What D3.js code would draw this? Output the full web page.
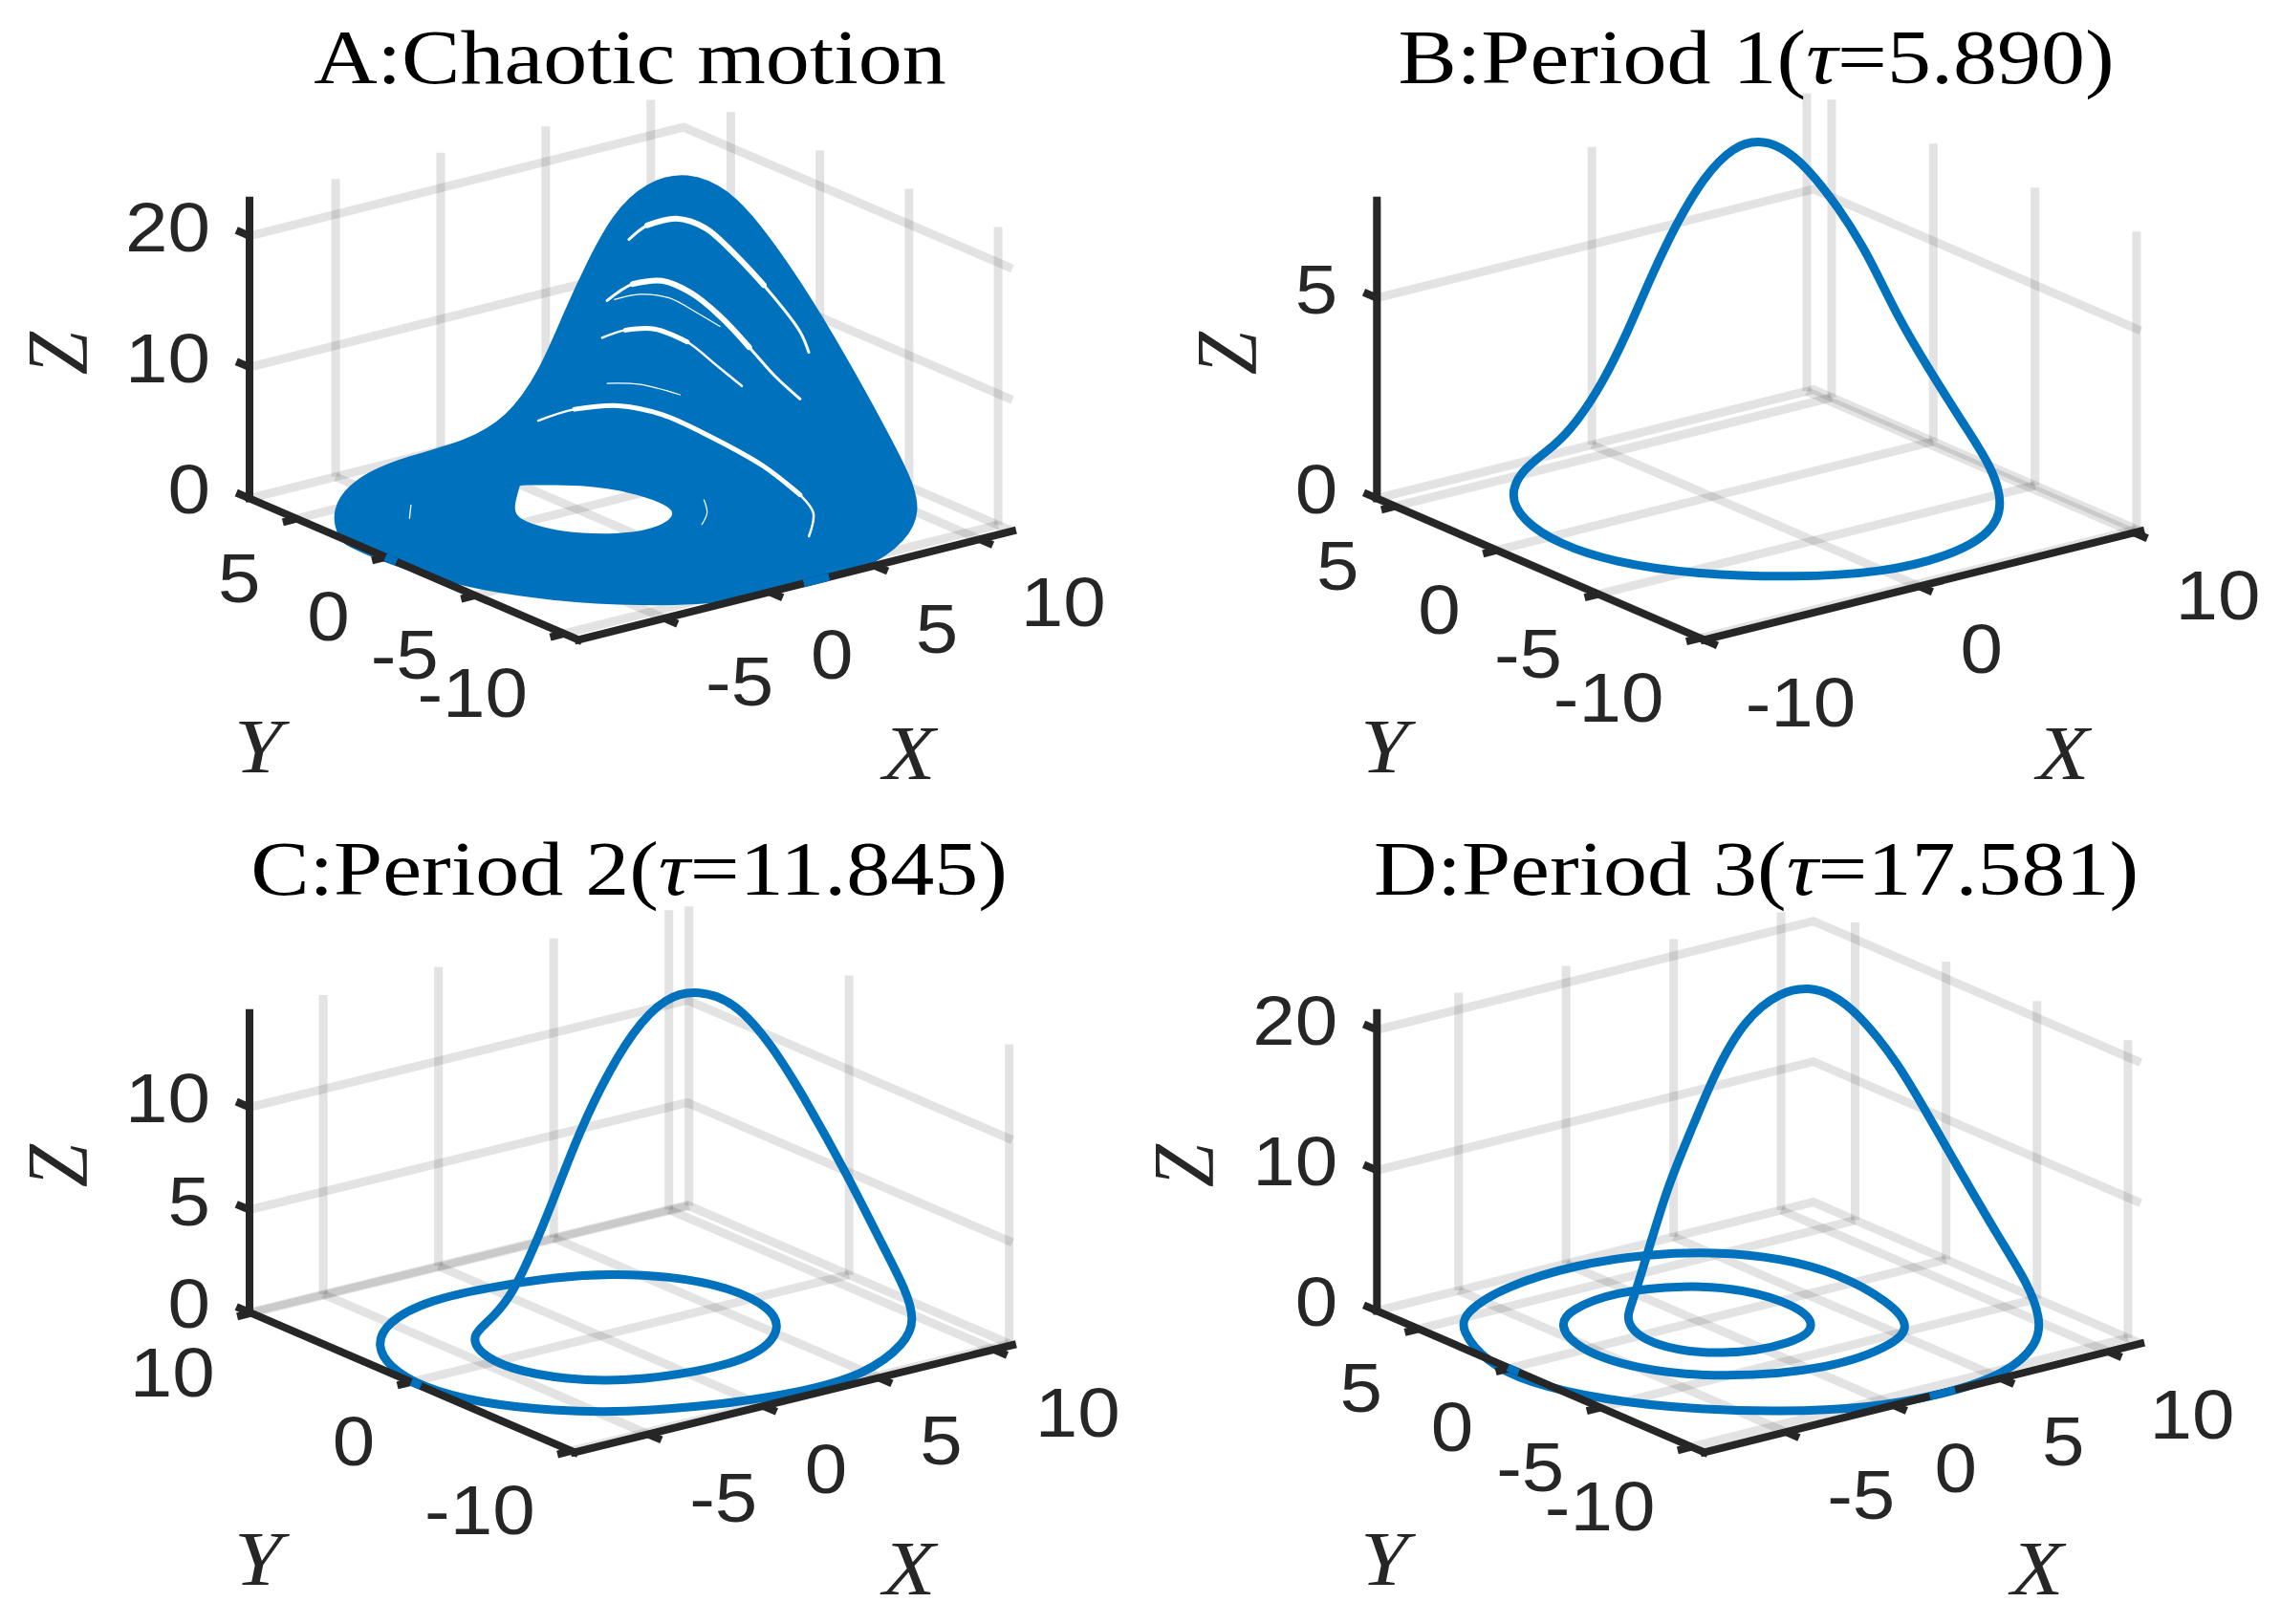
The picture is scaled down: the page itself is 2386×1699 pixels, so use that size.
<!DOCTYPE html>
<html>
<head>
<meta charset="utf-8">
<style>
  html, body { margin: 0; padding: 0; background: #fff; }
  svg { display: block; }
  .tick-label { font-family: "Liberation Sans", Arial, sans-serif; font-size: 80px; fill: #262626; }
  .axis-label { font-family: "Liberation Serif", "Times New Roman", serif; font-style: italic; font-size: 90px; fill: #262626; }
  .title { font-family: "Liberation Serif", "Times New Roman", serif; font-size: 92px; fill: #000; }
</style>
<script src="https://cdn.jsdelivr.net/npm/d3@7"></script>
</head>
<body>
<svg id="chart" width="2386" height="1699"></svg>
<script>
const limitsA = { x: [-9.1, 11.56], y: [-10.8, 7.65], z: [0, 22.7] }
const limitsB = { x: [-10, 10.3], y: [-10.2, 5.9], z: [0, 7.43] }
const limitsC = { x: [-8.2, 10.8], y: [-10.2, 10.1], z: [0, 14.6] }
const limitsD = { x: [-8.8, 11.5], y: [-10.7, 7.3], z: [0, 21.2] }

// Tick values
const ticksA = { x: [-5, 0, 5, 10], y: [-10, -5, 0, 5], z: [0, 10, 20] }
const ticksB = { x: [-10, 0, 10], y: [-10, -5, 0, 5], z: [0, 5] }
const ticksC = { x: [-5, 0, 5, 10], y: [-10, 0, 10], z: [0, 5, 10] }
const ticksD = { x: [-5, 0, 5, 10], y: [-10, -5, 0, 5], z: [0, 10, 20] }

// Where the trajectory passes in front of an axis: x range on the X axis, y range on the Y axis
const frontOfAxesA = { x: [1.63, 2.84], y: [0.02, -0.6] }
const frontOfAxesC = { x: [], y: [0, -0.6] }
const frontOfAxesD = { x: [1.69, 2.87], y: [0.1, -0.5] }

// Chaotic motion: outer edge of the dense band, [x, y, z]
const chaosEdge = [
  [-7.53, 4.84, 0.1], [-9.24, 2.31, 0.1], [-9.38, 1.73, 0.1], [-9.44, -0.6, 0.1], [-8.77, -4.1, 0.1],
  [-7.06, -6.97, 0.1], [-4.8, -9.19, 0.1], [-1.99, -10.78, 0.1], [1.29, -11.01, 0.1], [4.51, -10.86, 0.1],
  [7.71, -9.33, 0.1], [9.8, -7.57, 0.4], [9.33, -7.64, 3], [8.79, -6.84, 6.5], [7.61, -5.99, 12],
  [6.79, -4.52, 17], [6.6, -2.27, 20.5], [6.53, -0.73, 22], [6.14, 1.04, 22.5], [5.12, 2.1, 21.5],
  [3.8, 2.37, 19.5], [2.8, 2.63, 16], [2.1, 3.02, 12.5], [1.12, 3.3, 8], [0.55, 4.45, 4],
  [-0.21, 6, 1.5], [-1.75, 7.46, 0.2], [-4.64, 6.92, 0.1]
]

// Chaotic motion: empty middle of the ring (the first point is a sharp corner)
const chaosHole = [
  [-0.15, 3.03, 0.1], [-0.15, 3.03, 0.1], [1.78, 1.83, 0.1], [2.77, 0.14, 0.1], [3.04, -2.41, 0.1], [1, -3.38, 0.1],
  [-0.64, -3.06, 0.1], [-2.24, -1.69, 0.1], [-2.61, 0.12, 0.1], [-2.08, 1.1, 0.1], [-1.09, 2.11, 0.1]
]

// Chaotic motion: thin gaps between the bands
const chaosGap1 = [[4.17, 2, 17.71], [4.61, 1.5, 18.9], [4.73, 0, 20.24], [5.26, -1, 19.9], [5.8, -2, 18.29], [6.34, -3, 16.29], [7.22, -4, 12.97], [7.21, -4.5, 11.69]]
const chaosGap2 = [[3.13, 2, 13.47], [3.92, 1.5, 14.71], [4.46, 0.5, 15.32], [4.99, -0.5, 14.78], [5.53, -1.5, 13.37], [6.07, -2.5, 11.37], [6.43, -3.5, 9.64], [7.22, -4, 7.84]]
const chaosGap3 = [[3.48, 2, 13.41], [3.84, 1, 14.25], [4.38, 0, 14.34], [4.92, -1, 13.52], [5.53, -1.5, 12.58]]
const chaosGap4 = [[2.89, 2, 10.73], [3.58, 1.5, 11.33], [4.11, 0.5, 11.78], [4.82, -0.5, 11.1], [5.36, -1.5, 9.69], [5.72, -2.5, 8.55]]
const chaosGap5 = [[3.13, 2, 7.16], [3.84, 1, 7.38], [4.9, 0, 6.75]]
const chaosGap6 = [[0.7, 3, 4.71], [2, 2.5, 5.35], [3.23, 1.5, 5.71], [4.46, 0.5, 5.13], [6.03, -0.5, 3.31], [7.18, -2, 1.56], [7.22, -4, 0.53], [6.75, -5.3, 0.1], [4.99, -7.13, 0.1]]
const chaosGap7 = [[-4.81, 3.65, 0.1], [-5.76, 2.61, 0.1]]
const chaosGap8 = [[4.37, -1.97, 0.1], [3.56, -3.1, 0.1], [2.6, -3.94, 0.1]]
const chaosGaps = [chaosGap1, chaosGap2, chaosGap3, chaosGap4, chaosGap5, chaosGap6, chaosGap7, chaosGap8]
const chaosGapWidths = [6, 6, 2.5, 5, 2.5, 5, 2.5, 2.5]

const period1 = [
  [-6.4, 3.2, 0.2], [-7.5, 1.39, 0.1], [-8.03, -0.96, 0.1], [-7.65, -3.25, 0.1], [-6.11, -5.55, 0.1],
  [-3.34, -7.64, 0.1], [-0.42, -8.83, 0.1], [2.57, -8.88, 0.1], [5.45, -7.99, 0.1], [7.22, -6.73, 0.3],
  [7.59, -5.73, 1], [6.99, -4.93, 2], [6.01, -4.36, 3.3], [5.2, -3.61, 4.6], [4.48, -2.94, 6.1],
  [5.43, -0.49, 6.6], [6.2, 1.93, 7], [6.39, 3.37, 7.15], [6.02, 4.07, 7.2], [5.13, 4.36, 7.1],
  [4.13, 4.75, 6.4], [3.48, 5.48, 5.1], [2.57, 5.78, 3.8], [1.4, 5.61, 2.7], [-0.15, 5.22, 1.7],
  [-1.64, 4.91, 1], [-2.77, 4.77, 0.6], [-4.51, 4.55, 0.3]
]

const period2 = [
  [-3.6, 2.79, 0.1], [-4.55, 1.17, 0.1], [-4.82, -1.25, 0.1], [-3.87, -3.52, 0.1], [-2.36, -4.98, 0.1],
  [0.25, -5.77, 0.1], [2.85, -5.65, 0.1], [5.23, -3.82, 0.1], [6.42, -1.43, 0.1], [6.55, 1.48, 0.1],
  [5.61, 3.76, 0.1], [4.16, 5.32, 0.1], [2.32, 6.29, 0.1], [0.11, 6.75, 0.1], [-2.53, 7.03, 0.1],
  [-5.24, 5.87, 0.1], [-6.98, 3.91, 0.1], [-7.97, 1.71, 0.1], [-8.39, -0.94, 0.1], [-7.78, -3.7, 0.1],
  [-6.27, -6.07, 0.1], [-4.36, -7.85, 0.1], [-1.52, -9.21, 0.1], [1.73, -9.99, 0.1], [4.71, -9.8, 0.1],
  [7.82, -7.82, 0.1], [9.18, -6.45, 0.4], [8.81, -6.39, 2], [8.23, -5.86, 4], [7.14, -5.17, 7.6],
  [6.21, -4, 11], [5.73, -2.41, 13.5], [5.95, 0.16, 14.6], [5.7, 2.08, 14.6], [4.9, 2.96, 14.2],
  [4.2, 4, 12.4], [3.32, 4.78, 9.6], [2.64, 5.41, 6.8], [1.83, 5.83, 3.6], [0.66, 5.51, 1.5],
  [-0.85, 4.47, 0.5], [-2.55, 3.38, 0.2]
]

const period3 = [
  [-2.41, 1.25, 0.1], [-3.25, -1.14, 0.1], [-1.81, -3.44, 0.1], [1.21, -3.86, 0.1], [3.14, -2.87, 0.1],
  [3.87, -0.73, 0.1], [3.43, 1.56, 0.1], [1.99, 3.06, 0.1], [-0.61, 3.98, 0.1], [-3.14, 3.39, 0.1],
  [-4.52, 2.36, 0.1], [-5.58, 0.11, 0.1], [-5.28, -2.73, 0.1], [-3.3, -5.2, 0.1], [0.51, -6.68, 0.1],
  [4.22, -5.91, 0.1], [5.84, -4.71, 0.1], [6.83, -2.42, 0.1], [7.28, 0.91, 0.1], [6.62, 3.34, 0.1],
  [5.11, 5.15, 0.1], [3.04, 6.3, 0.1], [0.18, 6.92, 0.1], [-3.48, 6.59, 0.1], [-6.42, 5.31, 0.1],
  [-7.77, 3.91, 0.1], [-9.14, 0.89, 0.1], [-9.38, -1.58, 0.1], [-8.26, -4.65, 0.1], [-6.28, -7.12, 0.1],
  [-3.89, -9.08, 0.1], [-1.06, -10.55, 0.1], [1.97, -10.97, 0.1], [5.32, -10.61, 0.1], [8.4, -8.76, 0.1],
  [9.83, -7.16, 0.5], [9.37, -7.03, 3], [8.33, -6.64, 6.5], [7.19, -5.99, 11], [6.28, -5.27, 15],
  [5.56, -4.33, 18.8], [5.82, -1.82, 20.8], [6.11, -0.07, 21], [5.83, 0.8, 21.1], [5.17, 1.62, 20.6],
  [4.17, 2.44, 18.5], [3.13, 2.8, 15], [2.26, 3.17, 10.7], [1.63, 3.63, 7], [0.83, 3.88, 2],
  [-1.25, 2.22, 0.4]
]

const blue = '#0072BD'
const dark = '#262626'
const squash = 'scale(1,0.9)' // the picture is a little wider than it is tall
const titleSquash = 'scale(1,0.88)'

const panels = [
  {
    title: ['A:Chaotic motion'], titleAt: [659, 87], limits: limitsA, ticks: ticksA, frontOfAxes: frontOfAxesA,
    left: [261, 521.4], front: [605, 669.4], right: [1059, 555.6], top: 209.8,
    xLabel: [951, 788.6], yLabel: [270, 781.6], zLabel: [61, 369.6]
  },
  {
    title: ['B:Period 1(', '=5.890)'], titleAt: [1837, 87], limits: limitsB, ticks: ticksB, curve: period1,
    left: [1440.3, 521.4], front: [1782.7, 669.4], right: [2239.2, 555.6], top: 209.8,
    xLabel: [2158, 788.6], yLabel: [1448, 781.6], zLabel: [1284, 369.6]
  },
  {
    title: ['C:Period 2(', '=11.845)'], titleAt: [658, 936], limits: limitsC, ticks: ticksC, curve: period2, frontOfAxes: frontOfAxesC,
    left: [261, 1373], front: [601, 1519.4], right: [1059, 1407.2], top: 1059.8,
    xLabel: [951, 1641], yLabel: [270, 1631.6], zLabel: [61, 1219.6]
  },
  {
    title: ['D:Period 3(', '=17.581)'], titleAt: [1837, 936], limits: limitsD, ticks: ticksD, curve: period3, frontOfAxes: frontOfAxesD,
    left: [1440.3, 1371.4], front: [1782.7, 1519.4], right: [2239.2, 1405.6], top: 1059.8,
    xLabel: [2131, 1641], yLabel: [1448, 1631.6], zLabel: [1239, 1219.6]
  }
]

/**
 * Builds the projection of a panel out of one scale per axis. The x and y
 * scales return a screen vector, the z scale a vertical offset.
 *
 * @param {object} panel The panel, with its corners and limits
 * @returns {Function} Maps [x, y, z] to a screen position
 */
function makeProjection (panel) {
  const xScale = d3.scaleLinear().domain(panel.limits.x).range([panel.front, panel.right])
  const yScale = d3.scaleLinear().domain(panel.limits.y)
    .range([[0, 0], [panel.left[0] - panel.front[0], panel.left[1] - panel.front[1]]])
  const zScale = d3.scaleLinear().domain(panel.limits.z).range([0, panel.top - panel.left[1]])
  return ([x, y, z]) => {
    const a = xScale(x)
    const b = yScale(y)
    return [a[0] + b[0], a[1] + b[1] + zScale(z)]
  }
}

/**
 * Draws the light grid on the two back walls and the floor.
 *
 * @param {*} g The group of the panel
 * @param {object} panel The panel
 * @param {Function} project The projection of the panel
 */
function drawGrid (g, panel, project) {
  const { x: xLim, y: yLim, z: zLim } = panel.limits
  const { x: xTicks, y: yTicks, z: zTicks } = panel.ticks
  const segments = []
  xTicks.forEach(x => {
    segments.push([[x, yLim[1], 0], [x, yLim[1], zLim[1]]])
    segments.push([[x, yLim[0], 0], [x, yLim[1], 0]])
  })
  yTicks.forEach(y => {
    segments.push([[xLim[1], y, 0], [xLim[1], y, zLim[1]]])
    segments.push([[xLim[0], y, 0], [xLim[1], y, 0]])
  })
  zTicks.forEach(z => {
    segments.push([[xLim[0], yLim[1], z], [xLim[1], yLim[1], z], [xLim[1], yLim[0], z]])
  })
  g.append('g').selectAll('path').data(segments).join('path')
    .attr('d', d => d3.line()(d.map(project)))
    .attr('fill', 'none')
    .attr('stroke', dark)
    .attr('stroke-opacity', 0.13)
    .attr('stroke-width', 9)
}

/**
 * Draws the dense band of the chaotic panel with its hole and thin gaps.
 * Each gap is thin along its whole length and wider in the middle.
 *
 * @param {*} g The group of the panel
 * @param {Function} project The projection of the panel
 */
function drawChaos (g, project) {
  const closed = d3.line().curve(d3.curveBasisClosed)
  g.append('path')
    .attr('d', closed(chaosEdge.map(project)) + closed(chaosHole.map(project)))
    .attr('fill', blue)
    .attr('fill-rule', 'evenodd')
  g.append('path')
    .attr('d', closed(chaosEdge.map(project)))
    .attr('fill', 'none')
    .attr('stroke', blue)
    .attr('stroke-width', 6)
  const open = d3.line().curve(d3.curveCatmullRom.alpha(0.5))
  const gaps = g.append('g').attr('fill', 'none').attr('stroke', '#fff').attr('stroke-linecap', 'round')
  gaps.selectAll('path.thin').data(chaosGaps).join('path')
    .attr('class', 'thin')
    .attr('d', d => open(d.map(project)))
    .attr('stroke-width', (d, i) => chaosGapWidths[i] * 0.5)
  gaps.selectAll('path.wide').data(chaosGaps.filter(d => d.length > 5)).join('path')
    .attr('class', 'wide')
    .attr('d', d => open(d.slice(1, -2).map(project)))
    .attr('stroke-width', (d, i) => [6, 6, 5, 5][i])
}

/**
 * Draws the three dark axes with their ticks and tick labels.
 *
 * @param {*} g The group of the panel
 * @param {object} panel The panel
 * @param {Function} project The projection of the panel
 */
function drawAxes (g, panel, project) {
  const { x: xLim, y: yLim, z: zLim } = panel.limits
  const { x: xTicks, y: yTicks, z: zTicks } = panel.ticks
  const step = 15
  const unit = (a, b) => {
    const n = Math.hypot(b[0] - a[0], b[1] - a[1])
    return [(b[0] - a[0]) / n * step, (b[1] - a[1]) / n * step]
  }
  const outOfX = unit(panel.left, panel.front)
  const outOfY = unit(panel.right, panel.front)
  const outOfZ = unit(panel.front, panel.left)

  const axes = [
    [[xLim[0], yLim[0], 0], [xLim[1], yLim[0], 0]],
    [[xLim[0], yLim[0], 0], [xLim[0], yLim[1], 0]],
    [[xLim[0], yLim[1], 0], [xLim[0], yLim[1], zLim[1]]]
  ]
  g.append('g').selectAll('path').data(axes).join('path')
    .attr('d', d => d3.line()(d.map(project)))
    .attr('stroke', dark)
    .attr('stroke-width', 8)
    .attr('stroke-linecap', 'square')

  const tickRows = [
    { values: xTicks, at: v => project([v, yLim[0], 0]), out: outOfX, dx: 43, dy: 65, anchor: 'start' },
    { values: yTicks, at: v => project([xLim[0], v, 0]), out: outOfY, dx: -38, dy: 61, anchor: 'end' },
    { values: zTicks, at: v => project([xLim[0], yLim[1], v]), out: outOfZ, dx: -41, dy: -10, anchor: 'end' }
  ]
  tickRows.forEach(row => {
    g.append('g').selectAll('line').data(row.values).join('line')
      .attr('x1', d => row.at(d)[0])
      .attr('y1', d => row.at(d)[1])
      .attr('x2', d => row.at(d)[0] + row.out[0])
      .attr('y2', d => row.at(d)[1] + row.out[1])
      .attr('stroke', dark)
      .attr('stroke-width', 8)
    g.append('g').selectAll('text').data(row.values).join('text')
      .attr('class', 'tick-label')
      .attr('text-anchor', row.anchor)
      .attr('transform', d => {
        const p = row.at(d)
        return `translate(${p[0] + row.dx},${p[1] + row.dy + 26}) ${squash}`
      })
      .text(d => d)
  })

  // Short blue pieces that lie over the axis lines
  if (panel.frontOfAxes) {
    const pieces = []
    if (panel.frontOfAxes.x.length) pieces.push(panel.frontOfAxes.x.map(x => [x, yLim[0], 0]))
    if (panel.frontOfAxes.y.length) pieces.push(panel.frontOfAxes.y.map(y => [xLim[0], y, 0]))
    g.append('g').selectAll('path').data(pieces).join('path')
      .attr('d', d => d3.line()(d.map(project)))
      .attr('stroke', blue)
      .attr('stroke-width', 8)
  }
}

/**
 * Writes the title and the three axis names of a panel.
 *
 * @param {*} g The group of the panel
 * @param {object} panel The panel
 */
function drawText (g, panel) {
  const title = g.append('text')
    .attr('class', 'title')
    .attr('text-anchor', 'middle')
    .attr('transform', `translate(${panel.titleAt[0]},${panel.titleAt[1]}) ${titleSquash}`)
  title.append('tspan').text(panel.title[0])
  if (panel.title.length > 1) {
    title.append('tspan').attr('font-style', 'italic').text('τ')
    title.append('tspan').text(panel.title[1])
  }
  const nameBaseline = 0.33 * 90
  g.append('text').attr('class', 'axis-label').attr('text-anchor', 'middle')
    .attr('transform', `translate(${panel.xLabel[0]},${panel.xLabel[1] + nameBaseline * 0.9}) ${squash}`)
    .text('X')
  g.append('text').attr('class', 'axis-label').attr('text-anchor', 'middle')
    .attr('transform', `translate(${panel.yLabel[0]},${panel.yLabel[1] + nameBaseline * 0.9}) ${squash}`)
    .text('Y')
  g.append('text').attr('class', 'axis-label').attr('text-anchor', 'middle')
    .attr('transform', `translate(${panel.zLabel[0] + nameBaseline},${panel.zLabel[1]}) ${squash} rotate(-90)`)
    .text('Z')
}

const svg = d3.select('#chart')
svg.append('rect').attr('width', 2386).attr('height', 1699).attr('fill', '#fff')

panels.forEach(panel => {
  const g = svg.append('g')
  const project = makeProjection(panel)
  drawGrid(g, panel, project)
  if (panel.curve) {
    g.append('path')
      .attr('d', d3.line().curve(d3.curveBasisClosed)(panel.curve.map(project)))
      .attr('fill', 'none')
      .attr('stroke', blue)
      .attr('stroke-width', 9)
      .attr('stroke-linejoin', 'round')
  } else {
    drawChaos(g, project)
  }
  drawAxes(g, panel, project)
  drawText(g, panel)
})
</script>
</body>
</html>
